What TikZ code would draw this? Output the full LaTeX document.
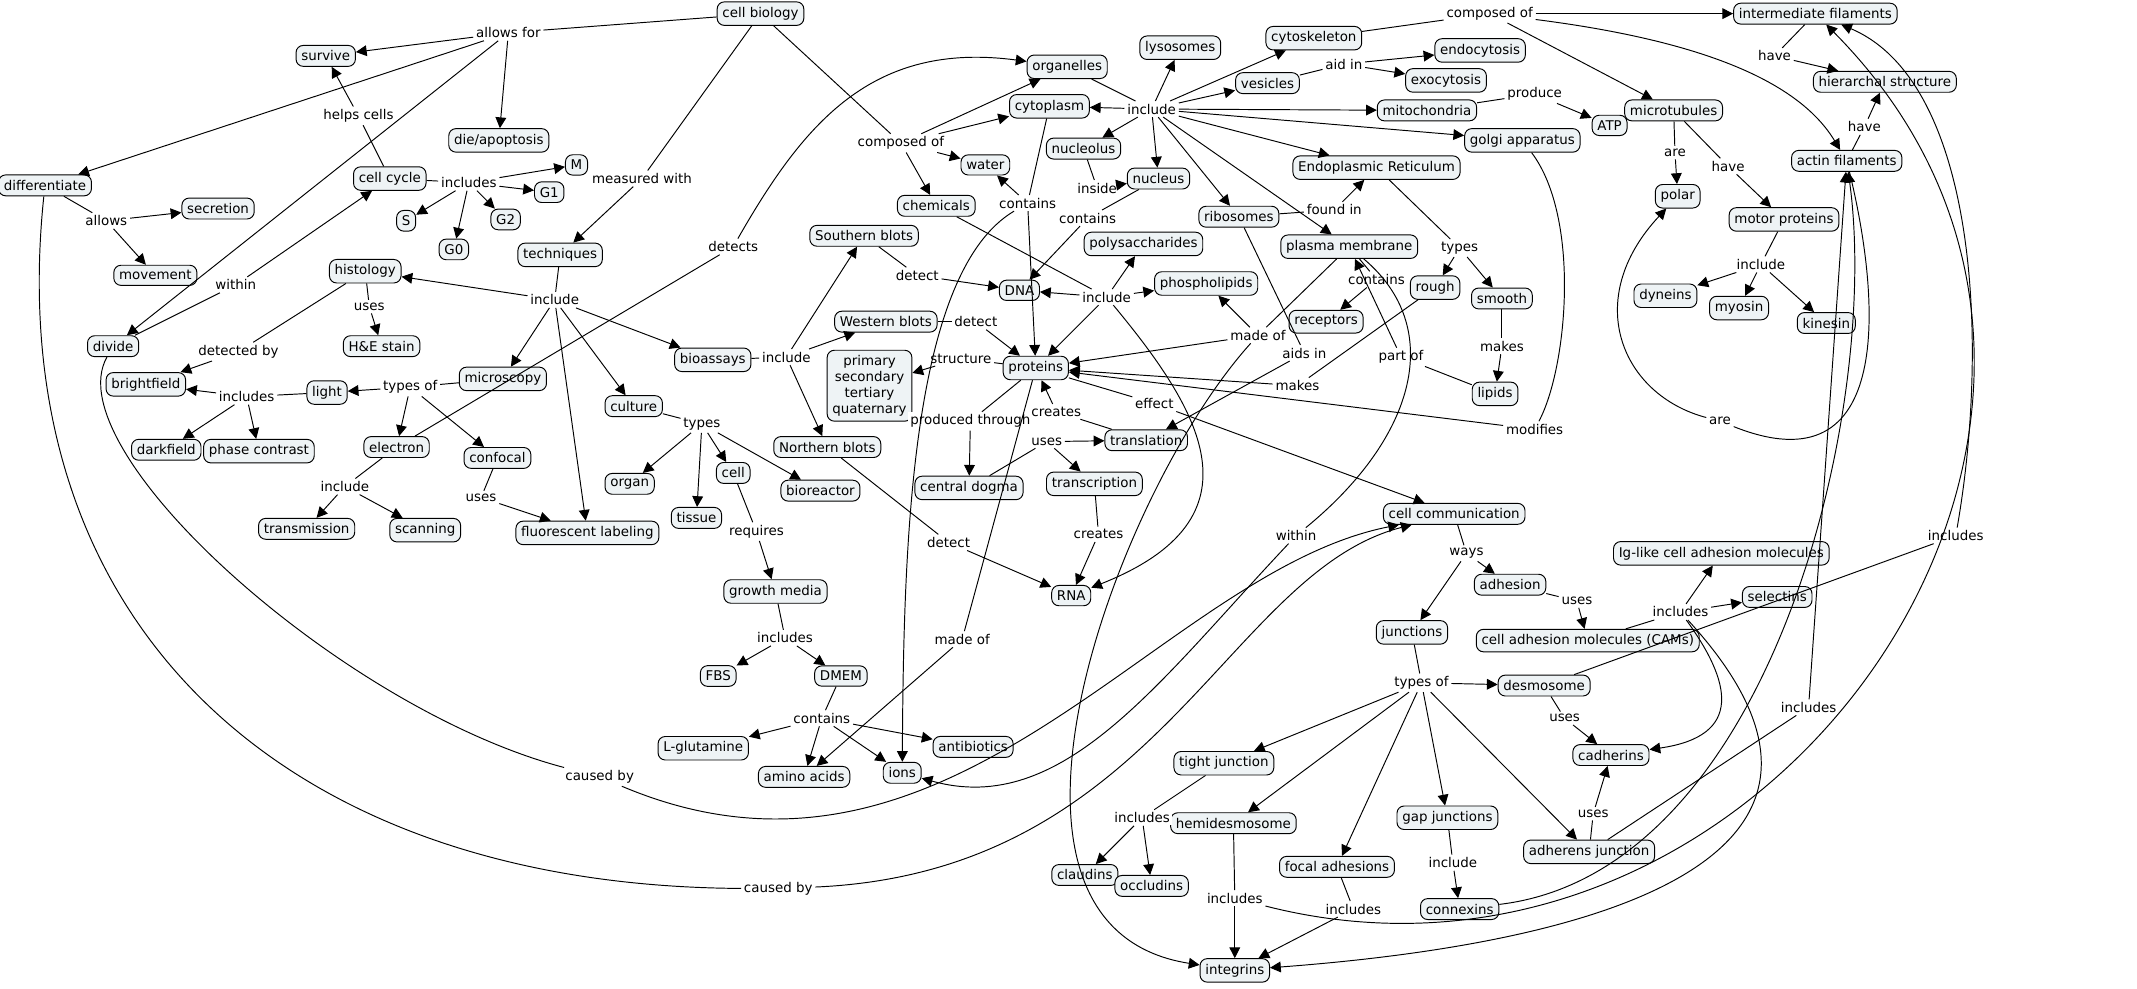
\documentclass[tikz,border=0pt]{standalone}
\usepackage{fontspec}
\setmainfont{DejaVu Sans}
\usetikzlibrary{arrows.meta}
\definecolor{boxfill}{HTML}{EEF3F5}
\tikzset{
  box/.style={draw=black,fill=boxfill,rounded corners=3pt,inner sep=2.2pt,font=\fontsize{5.6}{6.6}\selectfont,align=center},
  lbl/.style={fill=white,inner sep=1pt,font=\fontsize{5.6}{6.6}\selectfont},
  arr/.style={-{Triangle[length=4.5pt,width=4.5pt]}},
}
\begin{document}
\begin{tikzpicture}[x=0.02cm,y=-0.02cm,line width=0.4pt]
  \useasboundingbox (0,0) rectangle (1568,725);
  % concepts
  \node[box] (cellbio) at (558,10) {cell biology};
  \node[box] (survive) at (239,41) {survive};
  \node[box] (die) at (366,103) {die/apoptosis};
  \node[box] (differentiate) at (33,136) {differentiate};
  \node[box] (cellcycle) at (286,131) {cell cycle};
  \node[box] (m) at (423,121) {M};
  \node[box] (g1) at (403,141) {G1};
  \node[box] (s) at (298,162) {S};
  \node[box] (g0) at (333,183) {G0};
  \node[box] (g2) at (371,161) {G2};
  \node[box] (secretion) at (160,153) {secretion};
  \node[box] (movement) at (114,202) {movement};
  \node[box] (histology) at (268,199) {histology};
  \node[box] (he) at (280,254) {H\&E stain};
  \node[box] (divide) at (83,254) {divide};
  \node[box] (brightfield) at (107,282) {brightfield};
  \node[box] (light) at (240,288) {light};
  \node[box] (microscopy) at (369,278) {microscopy};
  \node[box] (darkfield) at (122,330) {darkfield};
  \node[box] (phase) at (190,331) {phase contrast};
  \node[box] (electron) at (291,328) {electron};
  \node[box] (confocal) at (365,336) {confocal};
  \node[box] (transmission) at (225,388) {transmission};
  \node[box] (scanning) at (312,389) {scanning};
  \node[box] (fluor) at (431,391) {fluorescent labeling};
  \node[box] (techniques) at (411,187) {techniques};
  \node[box] (culture) at (465,298) {culture};
  \node[box] (organ) at (462,355) {organ};
  \node[box] (tissue) at (511,380) {tissue};
  \node[box] (cellt) at (538,347) {cell};
  \node[box] (bioreactor) at (602,360) {bioreactor};
  \node[box] (growth) at (569,434) {growth media};
  \node[box] (fbs) at (527,496) {FBS};
  \node[box] (dmem) at (617,496) {DMEM};
  \node[box] (lglut) at (516,549) {L-glutamine};
  \node[box] (amino) at (590,570) {amino acids};
  \node[box] (ions) at (662,567) {ions};
  \node[box] (antibiotics) at (714,548) {antibiotics};
  \node[box] (bioassays) at (523,264) {bioassays};
  \node[box] (southern) at (634,173) {Southern blots};
  \node[box] (western) at (650,236) {Western blots};
  \node[box] (primary) at (638,283) {primary\\secondary\\tertiary\\quaternary};
  \node[box] (northern) at (607,328) {Northern blots};
  \node[box] (organelles) at (783,49) {organelles};
  \node[box] (cytoplasm) at (770,78) {cytoplasm};
  \node[box] (water) at (723,121) {water};
  \node[box] (chemicals) at (687,151) {chemicals};
  \node[box] (nucleolus) at (795,109) {nucleolus};
  \node[box] (nucleus) at (850,131) {nucleus};
  \node[box] (dna) at (748,213) {DNA};
  \node[box] (polysacch) at (839,179) {polysaccharides};
  \node[box] (phospho) at (885,208) {phospholipids};
  \node[box] (proteins) at (760,270) {proteins};
  \node[box] (central) at (711,358) {central dogma};
  \node[box] (translation) at (841,323) {translation};
  \node[box] (transcription) at (803,355) {transcription};
  \node[box] (rna) at (786,437) {RNA};
  \node[box] (lysosomes) at (866,35) {lysosomes};
  \node[box] (cytoskeleton) at (964,28) {cytoskeleton};
  \node[box] (vesicles) at (930,61) {vesicles};
  \node[box] (endocytosis) at (1086,37) {endocytosis};
  \node[box] (exocytosis) at (1061,59) {exocytosis};
  \node[box] (mito) at (1047,81) {mitochondria};
  \node[box] (atp) at (1181,92) {ATP};
  \node[box] (golgi) at (1117,103) {golgi apparatus};
  \node[box] (er) at (1010,123) {Endoplasmic Reticulum};
  \node[box] (ribosomes) at (909,159) {ribosomes};
  \node[box] (plasma) at (990,181) {plasma membrane};
  \node[box] (receptors) at (973,236) {receptors};
  \node[box] (rough) at (1053,211) {rough};
  \node[box] (smooth) at (1102,219) {smooth};
  \node[box] (lipids) at (1097,289) {lipids};
  \node[box] (interm) at (1332,10) {intermediate filaments};
  \node[box] (hier) at (1383,60) {hierarchal structure};
  \node[box] (micro) at (1228,81) {microtubules};
  \node[box] (polar) at (1231,144) {polar};
  \node[box] (actin) at (1355,118) {actin filaments};
  \node[box] (motor) at (1309,161) {motor proteins};
  \node[box] (dyneins) at (1222,217) {dyneins};
  \node[box] (myosin) at (1276,226) {myosin};
  \node[box] (kinesin) at (1340,237) {kinesin};
  \node[box] (cellcomm) at (1067,377) {cell communication};
  \node[box] (adhesion) at (1108,429) {adhesion};
  \node[box] (junctions) at (1036,464) {junctions};
  \node[box] (cams) at (1165,470) {cell adhesion molecules (CAMs)};
  \node[box] (ig) at (1263,406) {Ig-like cell adhesion molecules};
  \node[box] (selectins) at (1304,438) {selectins};
  \node[box] (desmosome) at (1133,503) {desmosome};
  \node[box] (cadherins) at (1182,554) {cadherins};
  \node[box] (tight) at (898,560) {tight junction};
  \node[box] (hemi) at (905,604) {hemidesmosome};
  \node[box] (gapj) at (1062,600) {gap junctions};
  \node[box] (focal) at (981,636) {focal adhesions};
  \node[box] (adherens) at (1166,625) {adherens junction};
  \node[box] (claudins) at (796,642) {claudins};
  \node[box] (occludins) at (845,650) {occludins};
  \node[box] (connexins) at (1071,667) {connexins};
  \node[box] (integrins) at (906,712) {integrins};
  % linking phrases
  \node[lbl] (allowsfor) at (373,24) {allows for};
  \node[lbl] (helps) at (263,85) {helps cells};
  \node[lbl] (measured) at (471,131) {measured with};
  \node[lbl] (composed1) at (661,105) {composed of};
  \node[lbl] (contains1) at (754,149) {contains};
  \node[lbl] (incl_cc) at (344,134) {includes};
  \node[lbl] (allows) at (78,162) {allows};
  \node[lbl] (within1) at (173,209) {within};
  \node[lbl] (detects) at (538,181) {detects};
  \node[lbl] (uses_h) at (271,225) {uses};
  \node[lbl] (incl_tech) at (407,220) {include};
  \node[lbl] (detectedby) at (175,258) {detected by};
  \node[lbl] (incl_light) at (181,291) {includes};
  \node[lbl] (types_m) at (301,284) {types of};
  \node[lbl] (incl_el) at (253,357) {include};
  \node[lbl] (uses_conf) at (353,365) {uses};
  \node[lbl] (types_cult) at (515,311) {types};
  \node[lbl] (requires) at (555,390) {requires};
  \node[lbl] (incl_gm) at (576,468) {includes};
  \node[lbl] (cont_dm) at (603,527) {contains};
  \node[lbl] (incl_bio) at (577,262) {include};
  \node[lbl] (det_s) at (673,202) {detect};
  \node[lbl] (det_w) at (716,236) {detect};
  \node[lbl] (det_n) at (696,398) {detect};
  \node[lbl] (structure) at (705,263) {structure};
  \node[lbl] (produced) at (712,309) {produced through};
  \node[lbl] (uses_cd) at (768,324) {uses};
  \node[lbl] (creates1) at (775,302) {creates};
  \node[lbl] (creates2) at (806,392) {creates};
  \node[lbl] (effect) at (847,296) {effect};
  \node[lbl] (madeof1) at (923,246) {made of};
  \node[lbl] (aidsin) at (957,259) {aids in};
  \node[lbl] (makes1) at (952,283) {makes};
  \node[lbl] (partof) at (1028,262) {part of};
  \node[lbl] (makes2) at (1102,254) {makes};
  \node[lbl] (modifies) at (1126,315) {modifies};
  \node[lbl] (madeof2) at (706,469) {made of};
  \node[lbl] (incl_org) at (845,80) {include};
  \node[lbl] (aidin) at (986,47) {aid in};
  \node[lbl] (produce) at (1126,69) {produce};
  \node[lbl] (foundin) at (979,154) {found in};
  \node[lbl] (inside) at (805,138) {inside};
  \node[lbl] (contains2) at (798,160) {contains};
  \node[lbl] (incl_mol) at (812,218) {include};
  \node[lbl] (contains3) at (1010,205) {contains};
  \node[lbl] (types_er) at (1071,182) {types};
  \node[lbl] (composed2) at (1093,10) {composed of};
  \node[lbl] (have1) at (1302,41) {have};
  \node[lbl] (have2) at (1368,93) {have};
  \node[lbl] (are1) at (1229,112) {are};
  \node[lbl] (have3) at (1268,122) {have};
  \node[lbl] (incl_mp) at (1292,194) {include};
  \node[lbl] (are2) at (1262,309) {are};
  \node[lbl] (within2) at (951,393) {within};
  \node[lbl] (ways) at (1076,406) {ways};
  \node[lbl] (uses_adh) at (1157,441) {uses};
  \node[lbl] (incl_cam) at (1233,449) {includes};
  \node[lbl] (types_j) at (1043,501) {types of};
  \node[lbl] (uses_des) at (1148,527) {uses};
  \node[lbl] (uses_adj) at (1169,597) {uses};
  \node[lbl] (incl_act) at (1435,393) {includes};
  \node[lbl] (incl_int) at (1327,519) {includes};
  \node[lbl] (incl_tj) at (838,600) {includes};
  \node[lbl] (incl_gj) at (1066,633) {include};
  \node[lbl] (incl_hemi) at (906,659) {includes};
  \node[lbl] (incl_fa) at (993,667) {includes};
  \node[lbl] (causedby1) at (440,570) {caused by};
  \node[lbl] (causedby2) at (571,652) {caused by};
  % connectors
  \draw (cellbio) -- (allowsfor);
  \foreach \t in {survive,die,differentiate,divide} \draw[arr] (allowsfor) -- (\t);
  \draw (cellbio) -- (measured); \draw[arr] (measured) -- (techniques);
  \draw (cellbio) -- (composed1);
  \foreach \t in {cytoplasm,water,chemicals} \draw[arr] (composed1) -- (\t);
  \draw[arr] (composed1) -- (organelles);
  \draw (cellcycle) -- (helps); \draw[arr] (helps) -- (survive);
  \draw (cellcycle) -- (incl_cc);
  \foreach \t in {m,g1,s,g0,g2} \draw[arr] (incl_cc) -- (\t);
  \draw (differentiate) -- (allows);
  \foreach \t in {secretion,movement} \draw[arr] (allows) -- (\t);
  \draw (divide) -- (within1); \draw[arr] (within1) -- (cellcycle);
  \draw (histology) -- (uses_h); \draw[arr] (uses_h) -- (he);
  \draw (histology) -- (detectedby); \draw[arr] (detectedby) -- (brightfield);
  \draw (techniques) -- (incl_tech);
  \foreach \t in {histology,microscopy,culture,bioassays,fluor} \draw[arr] (incl_tech) -- (\t);
  \draw (microscopy) -- (types_m);
  \foreach \t in {light,electron,confocal} \draw[arr] (types_m) -- (\t);
  \draw (light) -- (incl_light);
  \foreach \t in {brightfield,darkfield,phase} \draw[arr] (incl_light) -- (\t);
  \draw (electron) -- (incl_el);
  \foreach \t in {transmission,scanning} \draw[arr] (incl_el) -- (\t);
  \draw (confocal) -- (uses_conf); \draw[arr] (uses_conf) -- (fluor);
  \draw (electron) -- (detects);
  \draw[arr] (detects) .. controls (590,90) and (640,30) .. (organelles);
  \draw (culture) -- (types_cult);
  \foreach \t in {organ,tissue,cellt,bioreactor} \draw[arr] (types_cult) -- (\t);
  \draw (cellt) -- (requires); \draw[arr] (requires) -- (growth);
  \draw (growth) -- (incl_gm);
  \foreach \t in {fbs,dmem} \draw[arr] (incl_gm) -- (\t);
  \draw (dmem) -- (cont_dm);
  \foreach \t in {lglut,amino,ions,antibiotics} \draw[arr] (cont_dm) -- (\t);
  \draw (bioassays) -- (incl_bio);
  \foreach \t in {southern,western,northern} \draw[arr] (incl_bio) -- (\t);
  \draw (southern) -- (det_s); \draw[arr] (det_s) -- (dna);
  \draw (western) -- (det_w); \draw[arr] (det_w) -- (proteins);
  \draw (northern) -- (det_n); \draw[arr] (det_n) -- (rna);
  \draw (proteins) -- (structure); \draw[arr] (structure) -- (primary);
  \draw (proteins) -- (produced); \draw[arr] (produced) -- (central);
  \draw (central) -- (uses_cd);
  \foreach \t in {translation,transcription} \draw[arr] (uses_cd) -- (\t);
  \draw (translation) -- (creates1); \draw[arr] (creates1) -- (proteins);
  \draw (transcription) -- (creates2); \draw[arr] (creates2) -- (rna);
  \draw (proteins) -- (effect); \draw[arr] (effect) -- (cellcomm);
  \draw (proteins) -- (madeof2); \draw[arr] (madeof2) -- (amino);
  \draw (cytoplasm) -- (contains1);
  \foreach \t in {water,proteins} \draw[arr] (contains1) -- (\t);
  \draw[arr] (contains1) .. controls (668,200) and (663,400) .. (ions);
  \draw (chemicals) -- (incl_mol);
  \foreach \t in {dna,polysacch,phospho,proteins} \draw[arr] (incl_mol) -- (\t);
  \draw[arr] (incl_mol) .. controls (880,300) and (930,380) .. (rna);
  \draw (organelles) -- (incl_org);
  \foreach \t in {lysosomes,cytoskeleton,vesicles,mito,golgi,er,nucleus,nucleolus,ribosomes,plasma,cytoplasm}
    \draw[arr] (incl_org) -- (\t);
  \draw (vesicles) -- (aidin);
  \foreach \t in {endocytosis,exocytosis} \draw[arr] (aidin) -- (\t);
  \draw (mito) -- (produce); \draw[arr] (produce) -- (atp);
  \draw (ribosomes) -- (foundin); \draw[arr] (foundin) -- (er);
  \draw (ribosomes) -- (aidsin); \draw[arr] (aidsin) -- (translation);
  \draw (nucleolus) -- (inside); \draw[arr] (inside) -- (nucleus);
  \draw (nucleus) -- (contains2); \draw[arr] (contains2) -- (dna);
  \draw (plasma) -- (contains3); \draw[arr] (contains3) -- (receptors);
  \draw (plasma) -- (madeof1);
  \foreach \t in {phospho,proteins} \draw[arr] (madeof1) -- (\t);
  \draw[arr] (madeof1) .. controls (820,360) and (700,680) .. (integrins);
  \draw (er) -- (types_er);
  \foreach \t in {rough,smooth} \draw[arr] (types_er) -- (\t);
  \draw (smooth) -- (makes2); \draw[arr] (makes2) -- (lipids);
  \draw (rough) -- (makes1); \draw[arr] (makes1) -- (proteins);
  \draw (lipids) -- (partof); \draw[arr] (partof) -- (plasma);
  \draw (golgi) .. controls (1160,160) and (1150,270) .. (modifies);
  \draw[arr] (modifies) -- (proteins);
  \draw (cytoskeleton) -- (composed2);
  \draw[arr] (composed2) -- (interm);
  \draw[arr] (composed2) -- (micro);
  \draw[arr] (composed2) .. controls (1250,30) and (1320,60) .. (actin);
  \draw (interm) -- (have1); \draw[arr] (have1) -- (hier);
  \draw (actin) -- (have2); \draw[arr] (have2) -- (hier);
  \draw (micro) -- (are1); \draw[arr] (are1) -- (polar);
  \draw (micro) -- (have3); \draw[arr] (have3) -- (motor);
  \draw (motor) -- (incl_mp);
  \foreach \t in {dyneins,myosin,kinesin} \draw[arr] (incl_mp) -- (\t);
  \draw (actin) .. controls (1380,220) and (1390,360) .. (are2);
  \draw[arr] (are2) .. controls (1190,290) and (1160,220) .. (polar);
  \draw (plasma) .. controls (1060,240) and (1040,320) .. (within2);
  \draw[arr] (within2) .. controls (850,500) and (780,600) .. (ions);
  \draw (cellcomm) -- (ways);
  \foreach \t in {adhesion,junctions} \draw[arr] (ways) -- (\t);
  \draw (adhesion) -- (uses_adh); \draw[arr] (uses_adh) -- (cams);
  \draw (cams) -- (incl_cam);
  \foreach \t in {ig,selectins} \draw[arr] (incl_cam) -- (\t);
  \draw[arr] (incl_cam) .. controls (1270,500) and (1280,540) .. (cadherins);
  \draw[arr] (incl_cam) .. controls (1390,620) and (1200,690) .. (integrins);
  \draw (junctions) -- (types_j);
  \foreach \t in {desmosome,tight,hemi,gapj,focal,adherens} \draw[arr] (types_j) -- (\t);
  \draw (desmosome) -- (uses_des); \draw[arr] (uses_des) -- (cadherins);
  \draw (desmosome) -- (incl_act);
  \draw[arr] (incl_act) .. controls (1460,250) and (1450,60) .. (interm);
  \draw (adherens) -- (uses_adj); \draw[arr] (uses_adj) -- (cadherins);
  \draw (adherens) -- (incl_int); \draw[arr] (incl_int) -- (actin);
  \draw (tight) -- (incl_tj);
  \foreach \t in {claudins,occludins} \draw[arr] (incl_tj) -- (\t);
  \draw (gapj) -- (incl_gj); \draw[arr] (incl_gj) -- (connexins);
  \draw[arr] (connexins) .. controls (1300,640) and (1380,300) .. (actin);
  \draw (hemi) -- (incl_hemi); \draw[arr] (incl_hemi) -- (integrins);
  \draw[arr] (incl_hemi) .. controls (1300,760) and (1620,300) .. (interm);
  \draw (focal) -- (incl_fa); \draw[arr] (incl_fa) -- (integrins);
  \draw (divide) .. controls (40,330) and (250,520) .. (causedby1);
  \draw[arr] (causedby1) .. controls (700,680) and (850,420) .. (cellcomm);
  \draw (differentiate) .. controls (0,450) and (200,650) .. (causedby2);
  \draw[arr] (causedby2) .. controls (850,640) and (900,420) .. (cellcomm);
\end{tikzpicture}
\end{document}
